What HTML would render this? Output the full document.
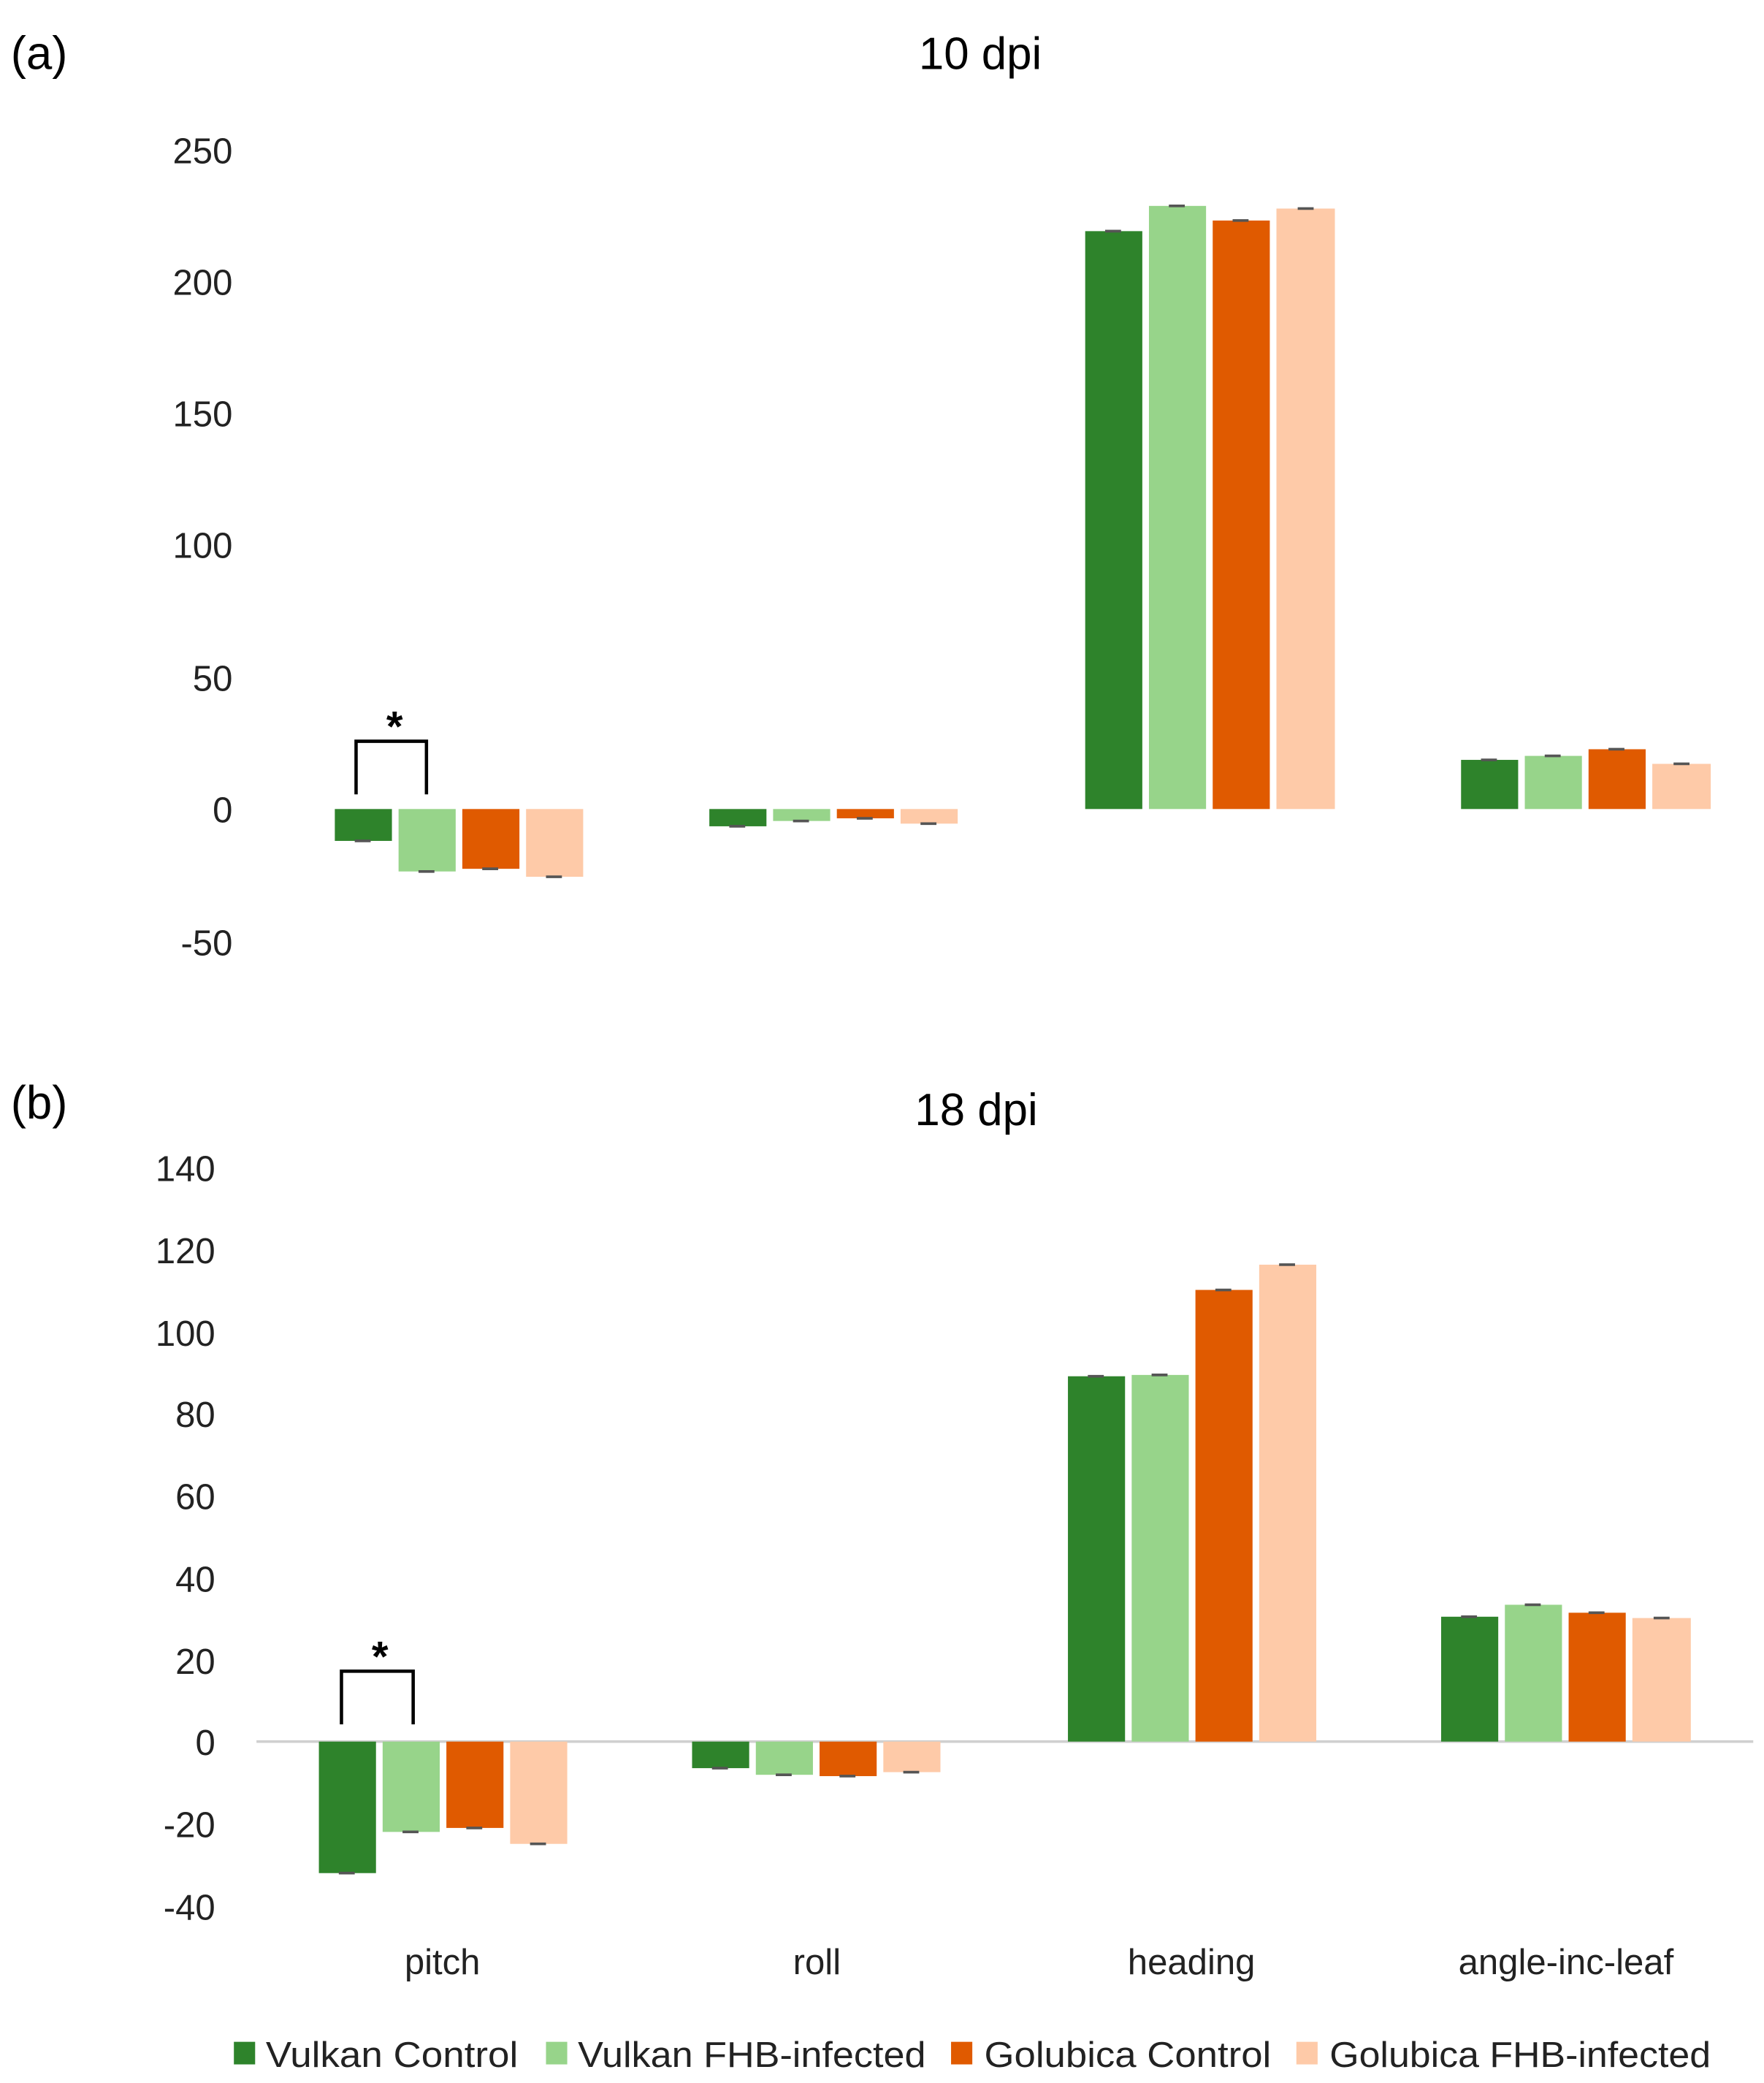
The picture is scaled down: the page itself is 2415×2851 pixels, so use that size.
<!DOCTYPE html>
<html><head><meta charset="utf-8"><style>html,body{margin:0;padding:0;background:#fff}svg{display:block}</style></head>
<body>
<svg width="2415" height="2851" viewBox="0 0 1328 1568" xmlns="http://www.w3.org/2000/svg" font-family="Liberation Sans, sans-serif">
<rect width="1328" height="1568" fill="#fff"/>
<g fill="#000">
<text x="8" y="52" font-size="35">(a)</text>
<text x="738" y="52" font-size="34" text-anchor="middle">10 dpi</text>
<text x="8" y="842" font-size="35">(b)</text>
<text x="735" y="847" font-size="34" text-anchor="middle">18 dpi</text>
</g>
<g font-size="27" text-anchor="end" fill="#222">
<text x="175" y="123">250</text><text x="175" y="222">200</text><text x="175" y="321">150</text>
<text x="175" y="420">100</text><text x="175" y="520">50</text><text x="175" y="619">0</text><text x="175" y="719">-50</text>
<text x="162" y="889">140</text><text x="162" y="951">120</text><text x="162" y="1013">100</text>
<text x="162" y="1074">80</text><text x="162" y="1136">60</text><text x="162" y="1198">40</text>
<text x="162" y="1260">20</text><text x="162" y="1321">0</text><text x="162" y="1383">-20</text><text x="162" y="1445">-40</text>
</g>
<line x1="193" y1="1311" x2="1320" y2="1311" stroke="#d0d0d0" stroke-width="2"/>
<g>
<rect x="252" y="609" width="43" height="24" fill="#2e832b"/>
<rect x="300" y="609" width="43" height="47" fill="#97d48a"/>
<rect x="348" y="609" width="43" height="45" fill="#e05a00"/>
<rect x="396" y="609" width="43" height="51" fill="#fecaa8"/>
<rect x="534" y="609" width="43" height="13" fill="#2e832b"/>
<rect x="582" y="609" width="43" height="9" fill="#97d48a"/>
<rect x="630" y="609" width="43" height="7" fill="#e05a00"/>
<rect x="678" y="609" width="43" height="11" fill="#fecaa8"/>
<rect x="817" y="174" width="43" height="435" fill="#2e832b"/>
<rect x="865" y="155" width="43" height="454" fill="#97d48a"/>
<rect x="913" y="166" width="43" height="443" fill="#e05a00"/>
<rect x="961" y="157" width="44" height="452" fill="#fecaa8"/>
<rect x="1100" y="572" width="43" height="37" fill="#2e832b"/>
<rect x="1148" y="569" width="43" height="40" fill="#97d48a"/>
<rect x="1196" y="564" width="43" height="45" fill="#e05a00"/>
<rect x="1244" y="575" width="44" height="34" fill="#fecaa8"/>
</g>
<g stroke="#555" stroke-width="2">
<path d="M267 633h12M315 656h12M363 654h12M411 660h12M549 622h12M597 618h12M645 616h12M693 620h12M832 174h12M880 155h12M928 166h12M977 157h12M1115 572h12M1163 569h12M1211 564h12M1260 575h12"/>
</g>
<path d="M268 598V558H321V598" fill="none" stroke="#000" stroke-width="2.5"/>
<text x="297" y="558" font-size="32" font-weight="bold" text-anchor="middle">*</text>
<g>
<rect x="240" y="1311" width="43" height="99" fill="#2e832b"/>
<rect x="288" y="1311" width="43" height="68" fill="#97d48a"/>
<rect x="336" y="1311" width="43" height="65" fill="#e05a00"/>
<rect x="384" y="1311" width="43" height="77" fill="#fecaa8"/>
<rect x="521" y="1311" width="43" height="20" fill="#2e832b"/>
<rect x="569" y="1311" width="43" height="25" fill="#97d48a"/>
<rect x="617" y="1311" width="43" height="26" fill="#e05a00"/>
<rect x="665" y="1311" width="43" height="23" fill="#fecaa8"/>
<rect x="804" y="1036" width="43" height="275" fill="#2e832b"/>
<rect x="852" y="1035" width="43" height="276" fill="#97d48a"/>
<rect x="900" y="971" width="43" height="340" fill="#e05a00"/>
<rect x="948" y="952" width="43" height="359" fill="#fecaa8"/>
<rect x="1085" y="1217" width="43" height="94" fill="#2e832b"/>
<rect x="1133" y="1208" width="43" height="103" fill="#97d48a"/>
<rect x="1181" y="1214" width="43" height="97" fill="#e05a00"/>
<rect x="1229" y="1218" width="44" height="93" fill="#fecaa8"/>
</g>
<g stroke="#555" stroke-width="2">
<path d="M255 1410h12M303 1379h12M351 1376h12M399 1388h12M536 1331h12M584 1336h12M632 1337h12M680 1334h12M819 1036h12M867 1035h12M915 971h12M963 952h12M1100 1217h12M1148 1208h12M1196 1214h12M1245 1218h12"/>
</g>
<path d="M257 1298V1258H311V1298" fill="none" stroke="#000" stroke-width="2.5"/>
<text x="286" y="1258" font-size="32" font-weight="bold" text-anchor="middle">*</text>
<g font-size="27" text-anchor="middle" fill="#222">
<text x="333" y="1486">pitch</text><text x="615" y="1486">roll</text>
<text x="897" y="1486">heading</text><text x="1179" y="1486">angle-inc-leaf</text>
</g>
<g font-size="27" fill="#222">
<rect x="176" y="1537" width="16" height="17" fill="#2e832b"/><text x="200" y="1556" textLength="190" lengthAdjust="spacingAndGlyphs">Vulkan Control</text>
<rect x="411" y="1537" width="16" height="17" fill="#97d48a"/><text x="435" y="1556" textLength="262" lengthAdjust="spacingAndGlyphs">Vulkan FHB-infected</text>
<rect x="716" y="1537" width="16" height="17" fill="#e05a00"/><text x="741" y="1556" textLength="216" lengthAdjust="spacingAndGlyphs">Golubica Control</text>
<rect x="976" y="1537" width="16" height="17" fill="#fecaa8"/><text x="1001" y="1556" textLength="287" lengthAdjust="spacingAndGlyphs">Golubica FHB-infected</text>
</g>
</svg>
</body></html>
